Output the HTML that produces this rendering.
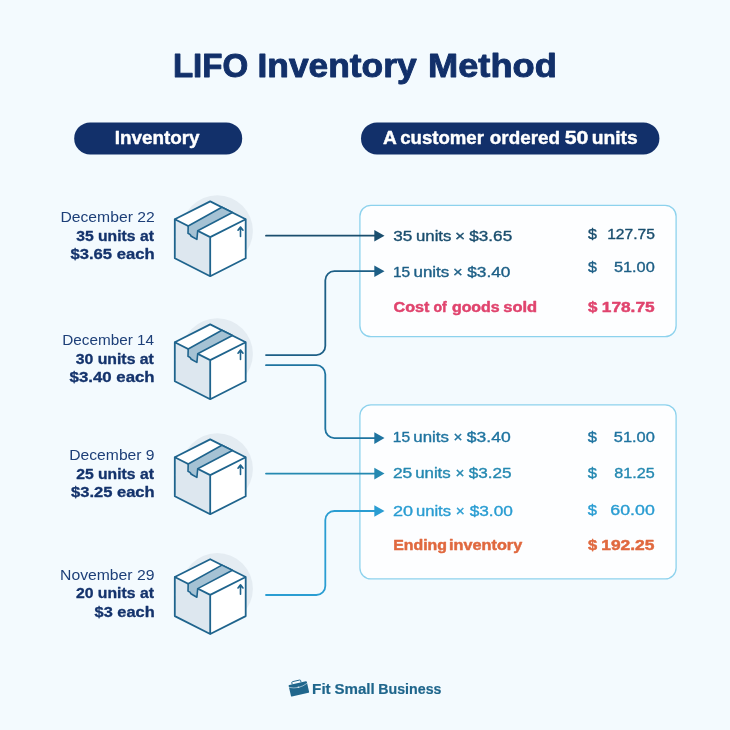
<!DOCTYPE html>
<html lang="en">
<head>
<meta charset="utf-8">
<title>LIFO Inventory Method</title>
<style>
  html, body { margin: 0; padding: 0; background: #f3fafe; }
  body { width: 730px; height: 730px; overflow: hidden; }
  svg { display: block; will-change: transform; }
  text { font-family: "Liberation Sans", sans-serif; }
</style>
</head>
<body>
<svg width="730" height="730" viewBox="0 0 730 730">
  <defs>
    <g id="box">
      <circle cx="217.2" cy="230.9" r="35.7" fill="#e4ecf2"/>
      <!-- top face -->
      <path d="M210.2 201.4 L245.7 219.2 L210.2 237.1 L174.8 219.2 Z" fill="#ffffff"/>
      <!-- left face -->
      <path d="M174.8 219.2 L210.2 237.1 L210.2 276.2 L174.8 258.3 Z" fill="#dde7ef"/>
      <!-- right face -->
      <path d="M210.2 237.1 L245.7 219.2 L245.7 258.3 L210.2 276.2 Z" fill="#ffffff"/>
      <!-- outlines -->
      <path d="M210.2 201.4 L245.7 219.2 L245.7 258.3 L210.2 276.2 L174.8 258.3 L174.8 219.2 Z M174.8 219.2 L210.2 237.1 L245.7 219.2 M210.2 237.1 L210.2 276.2" fill="none" stroke="#1f648d" stroke-width="1.8" stroke-linejoin="round" stroke-linecap="round"/>
      <!-- tape -->
      <path d="M221.9 207.3 L232.4 212.5 L197.7 230.8 L196.9 239.4 L192.6 237.0 L190.7 235.8 L190.3 234.6 L188.0 233.3 L188.2 226.0 Z" fill="#a5c2d4"/>
      <path d="M232.4 212.5 L197.7 230.8 L196.9 239.4 L192.6 237.0 L190.7 235.8 L190.3 234.6 L188.0 233.3 L188.2 226.0 L221.9 207.3 L232.4 212.5" fill="none" stroke="#1f648d" stroke-width="1.6" stroke-linejoin="round" stroke-linecap="round"/>
      <!-- up arrow -->
      <path d="M240.5 236.4 L240.5 227.2 M238.0 230.2 L240.5 227.0 L243.0 230.2" fill="none" stroke="#1f648d" stroke-width="1.6" stroke-linecap="round" stroke-linejoin="round"/>
    </g>
  </defs>

  <rect x="0" y="0" width="730" height="730" fill="#f3fafe"/>

  <!-- Title -->
  <text x="172.90" y="76.60" font-size="33px" font-weight="700" fill="#12306a" stroke="#12306a" stroke-width="0.9" stroke-linejoin="round" textLength="75.31" lengthAdjust="spacingAndGlyphs">LIFO</text>
  <text x="257.50" y="76.60" font-size="33px" font-weight="700" fill="#12306a" stroke="#12306a" stroke-width="0.9" stroke-linejoin="round" textLength="159.16" lengthAdjust="spacingAndGlyphs">Inventory</text>
  <text x="428.00" y="76.60" font-size="33px" font-weight="700" fill="#12306a" stroke="#12306a" stroke-width="0.9" stroke-linejoin="round" textLength="128.76" lengthAdjust="spacingAndGlyphs">Method</text>

  <!-- Pills -->
  <rect x="74.2" y="122.4" width="168" height="32" rx="16" fill="#12306a"/>
  <rect x="361" y="122.4" width="298.4" height="32" rx="16" fill="#12306a"/>
  <text x="114.65" y="144.20" font-size="17.6px" font-weight="700" fill="#ffffff" stroke="#ffffff" stroke-width="0.4" stroke-linejoin="round" textLength="84.92" lengthAdjust="spacingAndGlyphs">Inventory</text>
  <text x="383.10" y="144.20" font-size="17.6px" font-weight="700" fill="#ffffff" stroke="#ffffff" stroke-width="0.4" stroke-linejoin="round" textLength="13.84" lengthAdjust="spacingAndGlyphs">A</text>
  <text x="400.20" y="144.20" font-size="17.6px" font-weight="700" fill="#ffffff" stroke="#ffffff" stroke-width="0.4" stroke-linejoin="round" textLength="83.78" lengthAdjust="spacingAndGlyphs">customer</text>
  <text x="489.80" y="144.20" font-size="17.6px" font-weight="700" fill="#ffffff" stroke="#ffffff" stroke-width="0.4" stroke-linejoin="round" textLength="70.17" lengthAdjust="spacingAndGlyphs">ordered</text>
  <text x="564.65" y="144.20" font-size="17.6px" font-weight="700" fill="#ffffff" stroke="#ffffff" stroke-width="0.4" stroke-linejoin="round" textLength="23.65" lengthAdjust="spacingAndGlyphs">50</text>
  <text x="591.65" y="144.20" font-size="17.6px" font-weight="700" fill="#ffffff" stroke="#ffffff" stroke-width="0.4" stroke-linejoin="round" textLength="46.03" lengthAdjust="spacingAndGlyphs">units</text>

  <!-- Left labels -->
  <text x="60.45" y="222.20" font-size="14.6px" fill="#1d3f78" textLength="94.25" lengthAdjust="spacingAndGlyphs">December 22</text>
  <text x="76.20" y="240.60" font-size="14.2px" font-weight="700" fill="#14336c" stroke="#14336c" stroke-width="0.3" stroke-linejoin="round" textLength="77.69" lengthAdjust="spacingAndGlyphs">35 units at</text>
  <text x="70.50" y="258.90" font-size="14.2px" font-weight="700" fill="#14336c" stroke="#14336c" stroke-width="0.3" stroke-linejoin="round" textLength="84.13" lengthAdjust="spacingAndGlyphs">$3.65 each</text>
  <text x="62.25" y="345.20" font-size="14.6px" fill="#1d3f78" textLength="91.89" lengthAdjust="spacingAndGlyphs">December 14</text>
  <text x="75.70" y="363.60" font-size="14.2px" font-weight="700" fill="#14336c" stroke="#14336c" stroke-width="0.3" stroke-linejoin="round" textLength="78.19" lengthAdjust="spacingAndGlyphs">30 units at</text>
  <text x="69.55" y="382.00" font-size="14.2px" font-weight="700" fill="#14336c" stroke="#14336c" stroke-width="0.3" stroke-linejoin="round" textLength="85.09" lengthAdjust="spacingAndGlyphs">$3.40 each</text>
  <text x="69.25" y="460.10" font-size="14.6px" fill="#1d3f78" textLength="85.35" lengthAdjust="spacingAndGlyphs">December 9</text>
  <text x="76.15" y="478.60" font-size="14.2px" font-weight="700" fill="#14336c" stroke="#14336c" stroke-width="0.3" stroke-linejoin="round" textLength="77.77" lengthAdjust="spacingAndGlyphs">25 units at</text>
  <text x="71.00" y="497.00" font-size="14.2px" font-weight="700" fill="#14336c" stroke="#14336c" stroke-width="0.3" stroke-linejoin="round" textLength="83.63" lengthAdjust="spacingAndGlyphs">$3.25 each</text>
  <text x="60.05" y="579.70" font-size="14.6px" fill="#1d3f78" textLength="94.43" lengthAdjust="spacingAndGlyphs">November 29</text>
  <text x="75.95" y="598.30" font-size="14.2px" font-weight="700" fill="#14336c" stroke="#14336c" stroke-width="0.3" stroke-linejoin="round" textLength="77.97" lengthAdjust="spacingAndGlyphs">20 units at</text>
  <text x="94.55" y="616.70" font-size="14.2px" font-weight="700" fill="#14336c" stroke="#14336c" stroke-width="0.3" stroke-linejoin="round" textLength="60.09" lengthAdjust="spacingAndGlyphs">$3 each</text>

  <!-- Boxes -->
  <use href="#box" x="0" y="0"/>
  <use href="#box" x="0" y="123"/>
  <use href="#box" x="0" y="238"/>
  <use href="#box" x="0" y="357.8"/>

  <!-- Panels -->
  <rect x="359.9" y="205.3" width="316.2" height="131.4" rx="11" fill="#fdfeff" stroke="#8dd2ed" stroke-width="1.3"/>
  <rect x="359.9" y="404.8" width="316.2" height="174.1" rx="11" fill="#fdfeff" stroke="#8dd2ed" stroke-width="1.3"/>

  <!-- Connectors -->
  <g fill="none" stroke-width="1.8" stroke-linecap="round">
    <path d="M266 235.7 H376" stroke="#1a4e6e"/>
    <path d="M266 355.1 H316.3 A9 9 0 0 0 325.3 346.1 V280.2 A9 9 0 0 1 334.3 271.2 H376" stroke="#1d5f86"/>
    <path d="M266 365.2 H316.3 A9 9 0 0 1 325.3 374.2 V429.1 A9 9 0 0 0 334.3 438.1 H376" stroke="#1f74a0"/>
    <path d="M266 473.6 H376" stroke="#2589b1"/>
    <path d="M266 595.0 H316.3 A9 9 0 0 0 325.3 586.0 V520.0 A9 9 0 0 1 334.3 511.0 H376" stroke="#2a9dd2"/>
  </g>
  <path d="M374.3 229.9 L384.5 235.7 L374.3 241.5 Z" fill="#1a4e6e"/>
  <path d="M374.3 265.4 L384.5 271.2 L374.3 277.0 Z" fill="#1d5f86"/>
  <path d="M374.3 432.3 L384.5 438.1 L374.3 443.9 Z" fill="#1f74a0"/>
  <path d="M374.3 467.8 L384.5 473.6 L374.3 479.4 Z" fill="#2589b1"/>
  <path d="M374.3 505.2 L384.5 511.0 L374.3 516.8 Z" fill="#2a9dd2"/>

  <!-- Panel text -->
  <text x="393.15" y="241.00" font-size="14.0px" fill="#1a4e6e" stroke="#1a4e6e" stroke-width="0.35" stroke-linejoin="round" textLength="19.07" lengthAdjust="spacingAndGlyphs">35</text>
  <text x="416.00" y="241.00" font-size="14.0px" fill="#1a4e6e" stroke="#1a4e6e" stroke-width="0.35" stroke-linejoin="round" textLength="35.39" lengthAdjust="spacingAndGlyphs">units</text>
  <text x="455.00" y="241.00" font-size="14.0px" fill="#1a4e6e" stroke="#1a4e6e" stroke-width="0.35" stroke-linejoin="round" textLength="10.14" lengthAdjust="spacingAndGlyphs">×</text>
  <text x="469.35" y="241.00" font-size="14.0px" fill="#1a4e6e" stroke="#1a4e6e" stroke-width="0.35" stroke-linejoin="round" textLength="42.82" lengthAdjust="spacingAndGlyphs">$3.65</text>
  <text x="588.00" y="239.20" font-size="14.0px" fill="#1a4e6e" stroke="#1a4e6e" stroke-width="0.35" stroke-linejoin="round" textLength="8.91" lengthAdjust="spacingAndGlyphs">$</text>
  <text x="607.15" y="239.20" font-size="14.0px" fill="#1a4e6e" stroke="#1a4e6e" stroke-width="0.35" stroke-linejoin="round" textLength="47.68" lengthAdjust="spacingAndGlyphs">127.75</text>
  <text x="393.00" y="276.50" font-size="14.0px" fill="#1d5f86" stroke="#1d5f86" stroke-width="0.35" stroke-linejoin="round" textLength="17.17" lengthAdjust="spacingAndGlyphs">15</text>
  <text x="413.50" y="276.50" font-size="14.0px" fill="#1d5f86" stroke="#1d5f86" stroke-width="0.35" stroke-linejoin="round" textLength="35.75" lengthAdjust="spacingAndGlyphs">units</text>
  <text x="453.00" y="276.50" font-size="14.0px" fill="#1d5f86" stroke="#1d5f86" stroke-width="0.35" stroke-linejoin="round" textLength="9.70" lengthAdjust="spacingAndGlyphs">×</text>
  <text x="467.20" y="276.50" font-size="14.0px" fill="#1d5f86" stroke="#1d5f86" stroke-width="0.35" stroke-linejoin="round" textLength="43.27" lengthAdjust="spacingAndGlyphs">$3.40</text>
  <text x="588.00" y="272.20" font-size="14.0px" fill="#1d5f86" stroke="#1d5f86" stroke-width="0.35" stroke-linejoin="round" textLength="8.91" lengthAdjust="spacingAndGlyphs">$</text>
  <text x="613.95" y="272.20" font-size="14.0px" fill="#1d5f86" stroke="#1d5f86" stroke-width="0.35" stroke-linejoin="round" textLength="40.83" lengthAdjust="spacingAndGlyphs">51.00</text>
  <text x="393.50" y="312.10" font-size="14.0px" font-weight="700" fill="#e0446e" stroke="#e0446e" stroke-width="0.45" stroke-linejoin="round" textLength="35.85" lengthAdjust="spacingAndGlyphs">Cost</text>
  <text x="433.45" y="312.10" font-size="14.0px" font-weight="700" fill="#e0446e" stroke="#e0446e" stroke-width="0.45" stroke-linejoin="round" textLength="13.22" lengthAdjust="spacingAndGlyphs">of</text>
  <text x="451.95" y="312.10" font-size="14.0px" font-weight="700" fill="#e0446e" stroke="#e0446e" stroke-width="0.45" stroke-linejoin="round" textLength="47.70" lengthAdjust="spacingAndGlyphs">goods</text>
  <text x="503.30" y="312.10" font-size="14.0px" font-weight="700" fill="#e0446e" stroke="#e0446e" stroke-width="0.45" stroke-linejoin="round" textLength="33.86" lengthAdjust="spacingAndGlyphs">sold</text>
  <text x="588.00" y="312.10" font-size="14.0px" font-weight="700" fill="#e0446e" stroke="#e0446e" stroke-width="0.45" stroke-linejoin="round" textLength="9.41" lengthAdjust="spacingAndGlyphs">$</text>
  <text x="601.80" y="312.10" font-size="14.0px" font-weight="700" fill="#e0446e" stroke="#e0446e" stroke-width="0.45" stroke-linejoin="round" textLength="52.82" lengthAdjust="spacingAndGlyphs">178.75</text>
  <text x="392.80" y="442.40" font-size="14.0px" fill="#1f74a0" stroke="#1f74a0" stroke-width="0.35" stroke-linejoin="round" textLength="17.33" lengthAdjust="spacingAndGlyphs">15</text>
  <text x="413.30" y="442.40" font-size="14.0px" fill="#1f74a0" stroke="#1f74a0" stroke-width="0.35" stroke-linejoin="round" textLength="35.60" lengthAdjust="spacingAndGlyphs">units</text>
  <text x="453.45" y="442.40" font-size="14.0px" fill="#1f74a0" stroke="#1f74a0" stroke-width="0.35" stroke-linejoin="round" textLength="9.01" lengthAdjust="spacingAndGlyphs">×</text>
  <text x="466.85" y="442.40" font-size="14.0px" fill="#1f74a0" stroke="#1f74a0" stroke-width="0.35" stroke-linejoin="round" textLength="43.89" lengthAdjust="spacingAndGlyphs">$3.40</text>
  <text x="587.70" y="442.10" font-size="14.0px" fill="#1f74a0" stroke="#1f74a0" stroke-width="0.35" stroke-linejoin="round" textLength="9.21" lengthAdjust="spacingAndGlyphs">$</text>
  <text x="613.80" y="442.10" font-size="14.0px" fill="#1f74a0" stroke="#1f74a0" stroke-width="0.35" stroke-linejoin="round" textLength="41.08" lengthAdjust="spacingAndGlyphs">51.00</text>
  <text x="392.90" y="478.00" font-size="14.0px" fill="#2589b1" stroke="#2589b1" stroke-width="0.35" stroke-linejoin="round" textLength="19.34" lengthAdjust="spacingAndGlyphs">25</text>
  <text x="415.15" y="478.00" font-size="14.0px" fill="#2589b1" stroke="#2589b1" stroke-width="0.35" stroke-linejoin="round" textLength="35.60" lengthAdjust="spacingAndGlyphs">units</text>
  <text x="455.45" y="478.00" font-size="14.0px" fill="#2589b1" stroke="#2589b1" stroke-width="0.35" stroke-linejoin="round" textLength="9.01" lengthAdjust="spacingAndGlyphs">×</text>
  <text x="468.70" y="478.00" font-size="14.0px" fill="#2589b1" stroke="#2589b1" stroke-width="0.35" stroke-linejoin="round" textLength="42.92" lengthAdjust="spacingAndGlyphs">$3.25</text>
  <text x="587.70" y="477.90" font-size="14.0px" fill="#2589b1" stroke="#2589b1" stroke-width="0.35" stroke-linejoin="round" textLength="9.21" lengthAdjust="spacingAndGlyphs">$</text>
  <text x="614.30" y="477.90" font-size="14.0px" fill="#2589b1" stroke="#2589b1" stroke-width="0.35" stroke-linejoin="round" textLength="40.36" lengthAdjust="spacingAndGlyphs">81.25</text>
  <text x="392.90" y="515.60" font-size="14.0px" fill="#2a9dd2" stroke="#2a9dd2" stroke-width="0.35" stroke-linejoin="round" textLength="20.10" lengthAdjust="spacingAndGlyphs">20</text>
  <text x="415.95" y="515.60" font-size="14.0px" fill="#2a9dd2" stroke="#2a9dd2" stroke-width="0.35" stroke-linejoin="round" textLength="35.13" lengthAdjust="spacingAndGlyphs">units</text>
  <text x="455.80" y="515.60" font-size="14.0px" fill="#2a9dd2" stroke="#2a9dd2" stroke-width="0.35" stroke-linejoin="round" textLength="9.01" lengthAdjust="spacingAndGlyphs">×</text>
  <text x="469.65" y="515.60" font-size="14.0px" fill="#2a9dd2" stroke="#2a9dd2" stroke-width="0.35" stroke-linejoin="round" textLength="43.23" lengthAdjust="spacingAndGlyphs">$3.00</text>
  <text x="587.70" y="515.10" font-size="14.0px" fill="#2a9dd2" stroke="#2a9dd2" stroke-width="0.35" stroke-linejoin="round" textLength="9.21" lengthAdjust="spacingAndGlyphs">$</text>
  <text x="610.35" y="515.10" font-size="14.0px" fill="#2a9dd2" stroke="#2a9dd2" stroke-width="0.35" stroke-linejoin="round" textLength="44.43" lengthAdjust="spacingAndGlyphs">60.00</text>
  <text x="393.25" y="549.70" font-size="14.0px" font-weight="700" fill="#e0693f" stroke="#e0693f" stroke-width="0.45" stroke-linejoin="round" textLength="53.68" lengthAdjust="spacingAndGlyphs">Ending</text>
  <text x="449.10" y="549.70" font-size="14.0px" font-weight="700" fill="#e0693f" stroke="#e0693f" stroke-width="0.45" stroke-linejoin="round" textLength="73.09" lengthAdjust="spacingAndGlyphs">inventory</text>
  <text x="587.95" y="549.70" font-size="14.0px" font-weight="700" fill="#e0693f" stroke="#e0693f" stroke-width="0.45" stroke-linejoin="round" textLength="9.16" lengthAdjust="spacingAndGlyphs">$</text>
  <text x="601.25" y="549.70" font-size="14.0px" font-weight="700" fill="#e0693f" stroke="#e0693f" stroke-width="0.45" stroke-linejoin="round" textLength="53.23" lengthAdjust="spacingAndGlyphs">192.25</text>

  <!-- Logo -->
  <g transform="rotate(-13 299 689)">
    <rect x="289.6" y="683" width="18.6" height="11.8" rx="0.8" fill="#1f668c"/>
    <path d="M293.4 683 V681.3 Q293.4 680.4 294.3 680.4 H301.6 Q302.5 680.4 302.5 681.3 V683" fill="none" stroke="#1f668c" stroke-width="0.9"/>
    <path d="M289.6 685.2 Q298.9 689.5 308.2 685.2" fill="none" stroke="#f3fafe" stroke-width="0.5"/>
    <rect x="298.1" y="686.6" width="1.6" height="1" fill="#f3fafe"/>
  </g>
  <text x="312.10" y="693.60" font-size="15.4px" font-weight="700" fill="#1f668c" stroke="#1f668c" stroke-width="0.2" stroke-linejoin="round" textLength="18.60" lengthAdjust="spacingAndGlyphs">Fit</text>
  <text x="334.45" y="693.60" font-size="15.4px" font-weight="700" fill="#1f668c" stroke="#1f668c" stroke-width="0.2" stroke-linejoin="round" textLength="40.23" lengthAdjust="spacingAndGlyphs">Small</text>
  <text x="378.25" y="693.60" font-size="15.4px" font-weight="700" fill="#1f668c" stroke="#1f668c" stroke-width="0.2" stroke-linejoin="round" textLength="63.23" lengthAdjust="spacingAndGlyphs">Business</text>
</svg>
</body>
</html>
